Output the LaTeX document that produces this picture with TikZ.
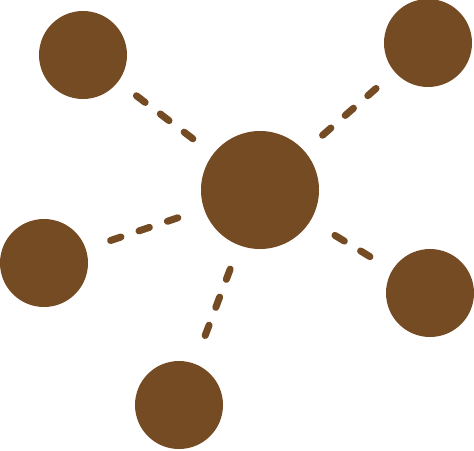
\documentclass[tikz,border=0pt]{standalone}
\definecolor{nodebrown}{RGB}{117,75,36}
\begin{document}
\begin{tikzpicture}[x=0.75pt,y=-0.75pt,
  hub/.style={circle,fill=nodebrown,draw=none,minimum size=88.5pt,inner sep=0pt},
  leaf/.style={circle,fill=nodebrown,draw=none,minimum size=66pt,inner sep=0pt},
  link/.style={draw=nodebrown,line width=5.25pt,line cap=round,dash pattern=on 8.25pt off 14.25pt}]
\useasboundingbox (0,0) rectangle (474,450);
\node[hub] (c) at (260,190) {};
\node[leaf] (tl) at (83,55) {};
\node[leaf] (tr) at (428,43) {};
\node[leaf] (l) at (44,263) {};
\node[leaf] (b) at (179,405) {};
\node[leaf] (r) at (430,293) {};
\draw[link,shorten <=50.4pt,shorten >=63.3pt] (tl.center) -- (c.center);
\draw[link,shorten <=62.4pt,shorten >=51.75pt] (c.center) -- (tr.center);
\draw[link,shorten <=52.7pt,shorten >=65pt] (l.center) -- (c.center);
\draw[link,shorten <=55.7pt,shorten >=63.4pt] (b.center) -- (c.center);
\draw[link,shorten <=65.7pt,shorten >=52.6pt] (c.center) -- (r.center);
\end{tikzpicture}
\end{document}
